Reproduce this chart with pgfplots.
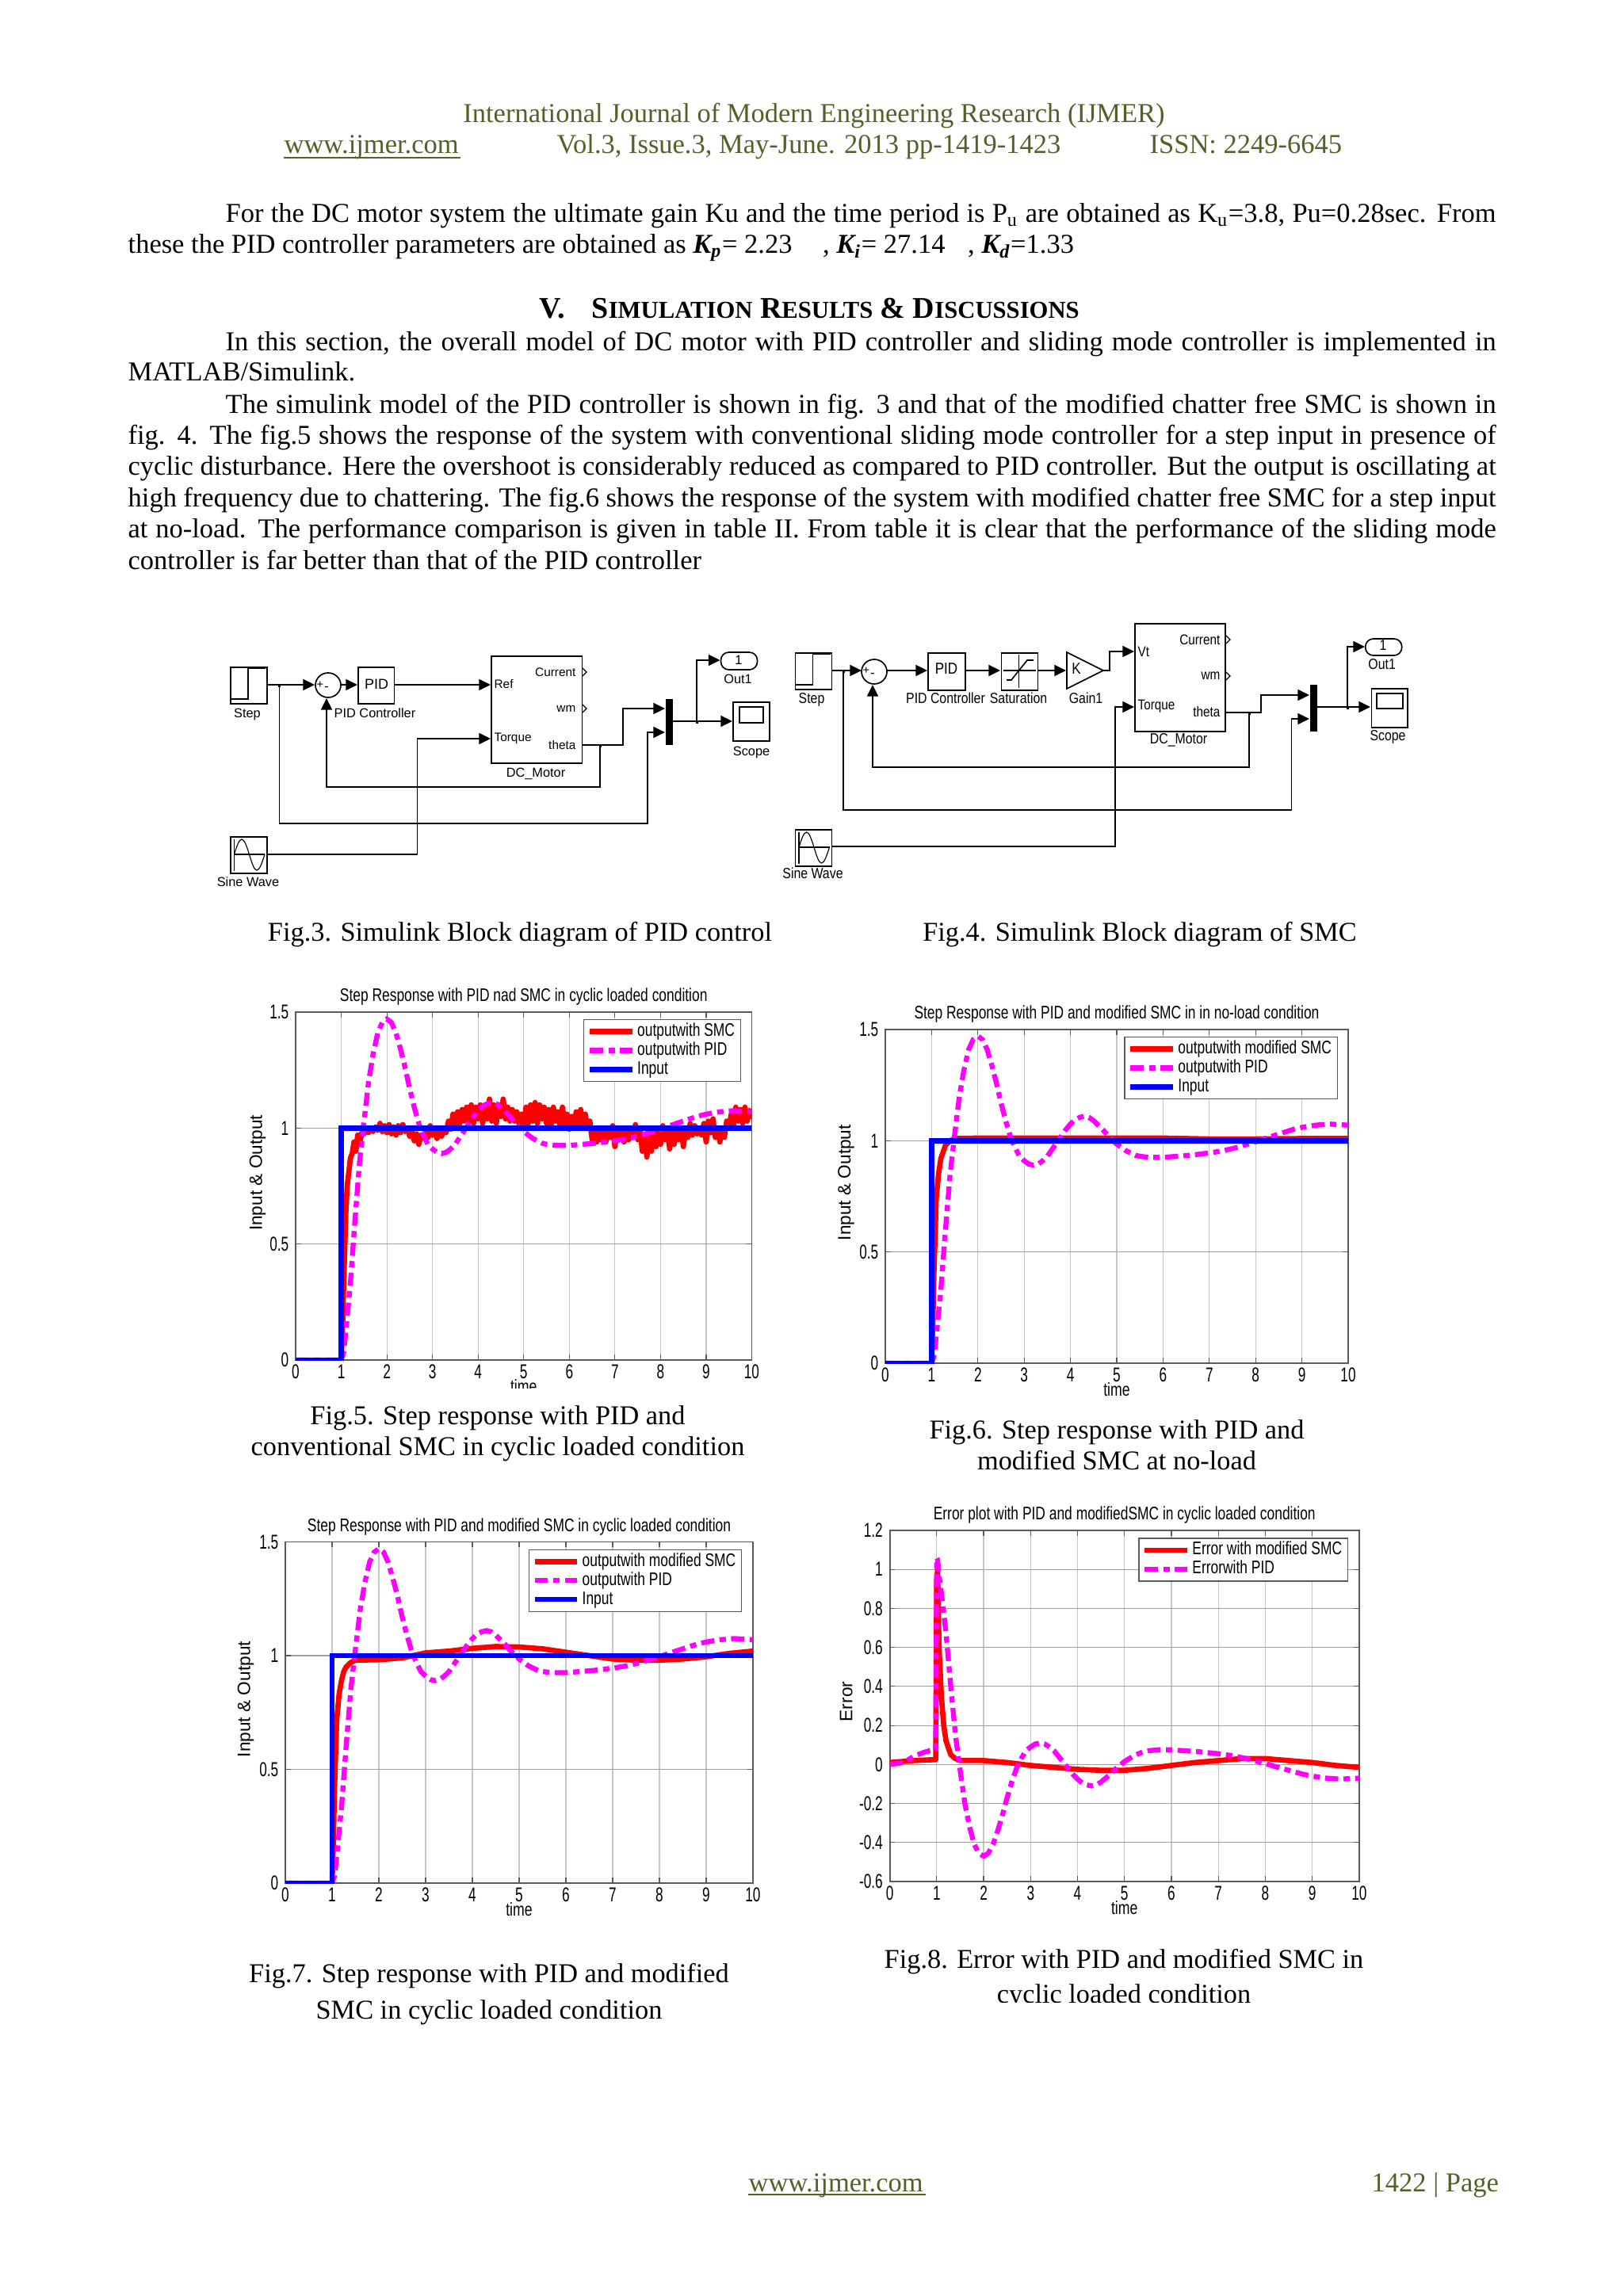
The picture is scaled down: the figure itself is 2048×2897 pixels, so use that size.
\documentclass[border=0pt]{standalone}
\usepackage{fontspec}
\usepackage{pgfplots}
\usepackage{pgfplotstable}
\pgfplotsset{compat=1.18}
\usetikzlibrary{arrows.meta}
\setmainfont{Liberation Serif}
\setsansfont{Liberation Sans}
\newfontfamily\narrow[FakeStretch=0.757]{Liberation Sans}
\newfontfamily\ticknarrow[FakeStretch=0.68]{Liberation Sans}
\newfontfamily\blockfont[FakeStretch=0.85]{Liberation Sans}
\definecolor{olive}{HTML}{4F6228}
\definecolor{matred}{RGB}{255,0,0}
\definecolor{matmag}{RGB}{255,0,255}
\definecolor{matblue}{RGB}{0,0,255}

% step response of the PID loop (same in figs 5-7)
\pgfplotstableread{
t v
0 0
1 0
1.05 0.03
1.1 0.12
1.2 0.33
1.3 0.6
1.4 0.85
1.5 1.03
1.6 1.2
1.7 1.32
1.8 1.41
1.9 1.455
2 1.47
2.1 1.455
2.2 1.41
2.3 1.34
2.4 1.26
2.5 1.17
2.6 1.09
2.7 1.02
2.8 0.97
2.9 0.93
3 0.91
3.1 0.895
3.2 0.89
3.3 0.895
3.4 0.91
3.5 0.93
3.6 0.96
3.7 0.99
3.8 1.02
3.9 1.05
4 1.075
4.1 1.095
4.2 1.105
4.3 1.11
4.4 1.105
4.5 1.09
4.6 1.07
4.7 1.05
4.8 1.025
4.9 1.005
5 0.985
5.1 0.97
5.2 0.955
5.3 0.945
5.4 0.935
5.5 0.93
5.7 0.925
6 0.925
6.3 0.93
6.6 0.935
7 0.945
7.3 0.955
7.6 0.97
8 0.995
8.2 1.01
8.5 1.03
8.8 1.05
9 1.06
9.3 1.07
9.6 1.075
10 1.07
}\pidcurve

% conventional SMC with chatter, fig 5
\pgfplotstableread{
t v
1 0
1.03 0.15
1.05 0.3
1.08 0.5
1.1 0.63
1.13 0.75
1.16 0.8
1.2 0.87
1.24 0.89
1.28 0.94
1.32 0.9
1.36 0.97
1.4 0.93
1.45 0.98
1.5 0.975
1.55 0.99
1.6 0.98
1.65 1
1.7 0.985
1.75 1.005
1.8 0.99
1.85 1.02
1.9 0.985
1.95 1.01
2 0.98
2.05 1.015
2.1 0.975
2.15 1.005
2.2 0.97
2.25 1.01
2.3 0.98
2.35 1.015
2.4 0.985
2.45 1
2.5 0.965
2.55 0.985
2.6 0.945
2.65 0.975
2.7 0.93
2.75 0.97
2.8 0.955
2.85 0.985
2.9 0.96
2.95 1.01
3 0.97
3.05 0.99
3.1 0.955
3.15 1
3.2 0.965
3.25 0.99
3.3 0.98
3.35 1.03
3.4 0.995
3.45 1.06
3.5 1.01
3.55 1.07
3.6 1.02
3.65 1.08
3.7 1.03
3.75 1.09
3.8 1.03
3.85 1.1
3.9 1.02
3.95 1.09
4 1.04
4.05 1.1
4.1 1.02
4.15 1.09
4.2 1.04
4.25 1.125
4.3 1.03
4.35 1.1
4.4 1.02
4.45 1.1
4.5 1.05
4.55 1.125
4.6 1.04
4.65 1.09
4.7 1.03
4.75 1.08
4.8 1.03
4.85 1.07
4.9 1.015
4.95 1.06
5 1
5.05 1.09
5.1 1.02
5.15 1.1
5.2 1.03
5.25 1.11
5.3 1.02
5.35 1.1
5.4 1.04
5.45 1.09
5.5 1.02
5.55 1.08
5.6 1.01
5.65 1.09
5.7 1.03
5.75 1.07
5.8 1
5.85 1.09
5.9 1.02
5.95 1.06
6 0.995
6.05 1.05
6.1 1
6.15 1.07
6.2 1.02
6.25 1.08
6.3 1.01
6.35 1.06
6.4 1
6.45 1.03
6.5 0.95
6.55 0.99
6.6 0.94
6.65 0.98
6.7 0.95
6.75 1
6.8 0.94
6.85 0.98
6.9 0.96
6.95 1.01
7 0.92
7.05 0.99
7.1 0.95
7.15 0.985
7.2 0.94
7.25 1
7.3 0.95
7.35 0.99
7.4 0.96
7.45 1.015
7.5 0.95
7.55 1
7.6 0.9
7.65 0.97
7.7 0.875
7.75 0.96
7.8 0.9
7.85 0.99
7.9 0.92
7.95 0.99
8 0.93
8.05 1.01
8.1 0.95
8.15 0.99
8.2 0.91
8.25 1
8.3 0.93
8.35 1.02
8.4 0.95
8.45 1
8.5 0.92
8.55 0.99
8.6 0.96
8.65 1.02
8.7 0.97
8.75 1.01
8.8 0.975
8.85 1
8.9 0.97
8.95 1.02
9 0.94
9.05 1.03
9.1 0.98
9.15 1.04
9.2 0.96
9.25 1
9.3 0.94
9.35 0.99
9.4 0.96
9.45 1.03
9.5 1
9.55 1.06
9.6 1.01
9.65 1.09
9.7 1.03
9.75 1.08
9.8 1.02
9.85 1.09
9.9 1.03
9.95 1.075
10 1.04
}\smcchatter

% modified SMC, no load, fig 6
\pgfplotstableread{
t v
1 0
1.03 0.2
1.05 0.4
1.08 0.6
1.1 0.74
1.15 0.85
1.2 0.92
1.25 0.95
1.3 0.98
1.4 1
1.5 1.01
2 1.012
3 1.012
4 1.012
5 1.012
6 1.012
6.5 1.01
7 1.008
8 1.008
9 1.01
10 1.01
}\smcnoload

% modified SMC, cyclic load, fig 7
\pgfplotstableread{
t v
1 0
1.03 0.2
1.05 0.4
1.08 0.6
1.1 0.72
1.15 0.83
1.2 0.89
1.25 0.93
1.3 0.95
1.4 0.97
1.5 0.98
2 0.982
2.5 0.99
3 1.012
3.5 1.02
4 1.032
4.5 1.04
5 1.038
5.5 1.03
6 1.015
6.5 1
7 0.985
7.5 0.98
8 0.98
8.5 0.985
9 0.995
9.5 1.01
10 1.02
}\smccyclic

\pgfplotstableread{
t v
0 0
1 0
1 1
10 1
}\stepinput

% error curves, fig 8
\pgfplotstableread{
t v
0 0.01
0.5 0.02
0.98 0.025
1 0.95
1.02 1
1.05 0.6
1.1 0.35
1.15 0.2
1.2 0.12
1.3 0.05
1.4 0.03
1.5 0.02
2 0.02
2.5 0.01
3 -0.005
3.5 -0.015
4 -0.025
4.5 -0.03
5 -0.03
5.5 -0.02
6 -0.005
6.5 0.01
7 0.02
7.5 0.03
8 0.03
8.5 0.02
9 0.01
9.5 -0.005
10 -0.015
}\errsmc

\pgfplotstableread{
t v
0 0
0.3 0.01
0.5 0.04
0.7 0.06
0.98 0.08
1 1.06
1.02 1.05
1.05 0.97
1.1 0.88
1.2 0.67
1.3 0.4
1.4 0.15
1.5 -0.03
1.6 -0.2
1.7 -0.32
1.8 -0.41
1.9 -0.455
2 -0.47
2.1 -0.455
2.2 -0.41
2.3 -0.34
2.4 -0.26
2.5 -0.17
2.6 -0.09
2.7 -0.02
2.8 0.03
2.9 0.07
3 0.09
3.1 0.105
3.2 0.11
3.3 0.105
3.4 0.09
3.5 0.07
3.6 0.04
3.7 0.01
3.8 -0.02
3.9 -0.05
4 -0.075
4.1 -0.095
4.2 -0.105
4.3 -0.11
4.4 -0.105
4.5 -0.09
4.6 -0.07
4.7 -0.05
4.8 -0.025
4.9 -0.005
5 0.015
5.1 0.03
5.2 0.045
5.3 0.055
5.4 0.065
5.5 0.07
5.7 0.075
6 0.075
6.3 0.07
6.6 0.065
7 0.055
7.3 0.045
7.6 0.03
8 0.005
8.2 -0.01
8.5 -0.03
8.8 -0.05
9 -0.06
9.3 -0.07
9.6 -0.075
10 -0.07
}\errpid

\pgfplotsset{
  pagechart/.style={
    scale only axis,
    xmin=0,xmax=10,
    xtick={0,1,...,10},
    xticklabels={0,1,2,3,4,5,6,7,8,9,10},
    grid=major,
    x grid style={gray!45,line width=0.35pt},
    y grid style={gray!75,line width=0.35pt},
    axis line style={black!65,line width=0.55pt},
    tick align=inside,
    major tick length=2pt,
    tick style={black!65,line width=0.35pt},
    tick label style={font=\ticknarrow\fontsize{7.6}{8}\selectfont},
    xticklabel style={yshift=1.7pt},
    yticklabel style={xshift=0.9pt},
    title style={font=\narrow\fontsize{6.9}{8}\selectfont,at={(axis description cs:0.5,1)},anchor=center,yshift=-0.3pt},
    xlabel style={font=\narrow\fontsize{7}{8}\selectfont,at={(axis description cs:0.5,0)},anchor=center,yshift=-10pt},
    ylabel style={font=\sffamily\fontsize{6.8}{8}\selectfont},
    legend cell align=left,
    legend image code/.code={\draw[##1] (0pt,0pt) -- (16pt,0pt);},
    legend style={font=\narrow\fontsize{6.9}{7.2}\selectfont,draw=black!65,line width=0.4pt,
      inner xsep=1.25pt,inner ysep=1.3pt,row sep=0.8pt,fill=white,
      nodes={inner xsep=1pt,inner ysep=0pt,text height=5pt,text depth=1.4pt},
      /tikz/every even column/.style={column sep=0pt}},
  },
  smcline/.style={matred,line width=2pt,line join=round},
  pidline/.style={matmag,line width=1.9pt,dash pattern=on 5pt off 2pt on 2.4pt off 2pt},
  inputline/.style={matblue,line width=1.9pt,line join=miter},
}

% one line set to a fixed width, so that it breaks as on the page
\newcommand\jline[4]{\node[anchor=base west,inner sep=0pt] at (#1,#2) {\hbox to \dimexpr0.3pt*#3\relax{#4}};}
\newcommand\tline[3]{\node[anchor=base west,inner sep=0pt] at (#1,#2) {#3};}
\newcommand\ctline[3]{\node[anchor=base,inner sep=0pt] at (#1,#2) {#3};}
\newcommand\blab[3]{\node[anchor=base,inner sep=0pt,font=\sffamily\fontsize{4.9}{6}\selectfont] at (#1,#2) {#3};}
\newcommand\blabb[3]{\node[anchor=base,inner sep=0pt,font=\blockfont\fontsize{5.6}{6}\selectfont] at (#1,#2) {#3};}
\newcommand\sineicon[2]{\begin{scope}[shift={(#1,#2)}]
  \draw[line width=0.5pt] (0,0) rectangle (46,46);
  \draw[line width=0.35pt] (4.5,3) -- (4.5,43) (4.5,22) -- (43,22);
  \draw[line width=0.35pt] (4.5,22) sin (14,3) cos (23.5,22) sin (33,42) cos (43,22);
\end{scope}}
\newcommand\stepicon[2]{\begin{scope}[shift={(#1,#2)}]
  \draw[line width=0.5pt] (0,0) rectangle (46,46);
  \draw[line width=0.5pt] (0,40) -- (22,40) -- (22,1.5) -- (44,1.5);
\end{scope}}
\tikzset{
  wire/.style={line width=0.5pt},
  arr/.style={wire,-{Triangle[length=4.4pt,width=4.2pt]}},
  port/.style={line width=0.35pt},
}

\begin{document}
\begin{tikzpicture}[x=0.3pt,y=-0.3pt]
\path (0,0) rectangle (2048,2897);

% page head
\begin{scope}[text=olive,font=\fontsize{10.35}{13}\selectfont]
\ctline{1027}{155}{International Journal of Modern Engineering Research (IJMER)}
\tline{358}{194}{www.ijmer.com}
\tline{702}{194}{Vol.3, Issue.3, May-June. 2013 pp-1419-1423}
\tline{1450}{194}{ISSN: 2249-6645}
\tline{944}{2765}{www.ijmer.com}
\tline{1730}{2765}{1422 | Page}
\end{scope}
\draw[olive,line width=0.5pt] (358,199) -- (581,199) (944,2769) -- (1168,2769);

% body text
\begin{scope}[font=\fontsize{10.35}{13}\selectfont]
\jline{284}{281}{1603}{For the DC motor system the ultimate gain Ku and the time period is P\textsubscript{u} are obtained as K\textsubscript{u}=3.8, Pu=0.28sec. From}
\tline{161}{320}{these the PID controller parameters are obtained as \textbf{\textit{K\textsubscript{p}}}= 2.23\hspace{9pt} , \textbf{\textit{K\textsubscript{i}}}= 27.14\hspace{6pt} , \textbf{\textit{K\textsubscript{d}}}=1.33}
\jline{284}{442}{1603}{In this section, the overall model of DC motor with PID controller and sliding mode controller is implemented in}
\tline{161}{481}{MATLAB/Simulink.}
\jline{284}{521}{1603}{The simulink model of the PID controller is shown in fig. 3 and that of the modified chatter free SMC is shown in}
\jline{161}{560}{1726}{fig. 4. The fig.5 shows the response of the system with conventional sliding mode controller for a step input in presence of}
\jline{161}{599}{1726}{cyclic disturbance. Here the overshoot is considerably reduced as compared to PID controller. But the output is oscillating at}
\jline{161}{639}{1726}{high frequency due to chattering. The fig.6 shows the response of the system with modified chatter free SMC for a step input}
\jline{161}{678}{1726}{at no-load. The performance comparison is given in table II. From table it is clear that the performance of the sliding mode}
\tline{161}{718}{controller is far better than that of the PID controller}
\end{scope}
\tline{680}{402}{\bfseries\fontsize{11.4}{14}\selectfont V.}
\tline{746}{402}{\bfseries\fontsize{11.4}{14}\selectfont S{\fontsize{9.2}{14}\selectfont IMULATION} R{\fontsize{9.2}{14}\selectfont ESULTS} \& D{\fontsize{9.2}{14}\selectfont ISCUSSIONS}}

% captions
\begin{scope}[font=\fontsize{10.3}{14}\selectfont]
\ctline{656}{1187}{Fig.3. Simulink Block diagram of PID control}
\ctline{1438}{1187}{Fig.4. Simulink Block diagram of SMC}
\ctline{628}{1797}{Fig.5. Step response with PID and}
\ctline{628}{1836}{conventional SMC in cyclic loaded condition}
\ctline{1409}{1815}{Fig.6. Step response with PID and}
\ctline{1409}{1854}{modified SMC at no-load}
\ctline{617}{2501}{Fig.7. Step response with PID and modified}
\ctline{617}{2547}{SMC in cyclic loaded condition}
\ctline{1418}{2483}{Fig.8. Error with PID and modified SMC in}
\ctline{1418}{2527}{cyclic loaded condition}
\end{scope}
\fill[white] (1240,2527) rectangle (1600,2545);

% fig 3 block diagram
\stepicon{291}{842}
\blab{312}{905}{Step}
\draw[arr] (337,864) -- (397,864);
\draw[wire] (414,864.5) ellipse (16 and 15.5);
\node[font=\sffamily\fontsize{4.4}{5}\selectfont,inner sep=0pt] at (404,864) {+};
\node[font=\sffamily\fontsize{5}{5}\selectfont,inner sep=0pt] at (412,869) {-};
\draw[arr] (430,864) -- (451,864);
\draw[wire] (452,842) rectangle (497.5,888);
\node[font=\sffamily\fontsize{5.4}{6}\selectfont,inner sep=0pt] at (475,863) {PID};
\blab{473}{905}{PID Controller}
\draw[arr] (497.5,864) -- (619,864);
\draw[wire] (620,828) rectangle (734.5,963);
\node[anchor=west,inner sep=0pt,font=\sffamily\fontsize{4.6}{5}\selectfont] at (623,863) {Ref};
\node[anchor=west,inner sep=0pt,font=\sffamily\fontsize{4.6}{5}\selectfont] at (623,932) {Torque};
\node[anchor=east,inner sep=0pt,font=\sffamily\fontsize{4.6}{5}\selectfont] at (727,848) {Current};
\node[anchor=east,inner sep=0pt,font=\sffamily\fontsize{4.6}{5}\selectfont] at (727,894) {wm};
\node[anchor=east,inner sep=0pt,font=\sffamily\fontsize{4.6}{5}\selectfont] at (727,940) {theta};
\draw[port] (735,843) -- (740,848) -- (735,853) (735,889) -- (740,894) -- (735,899);
\blab{676}{980}{DC\_Motor}
\draw[arr] (337,1078) -- (526.5,1078) -- (526.5,932) -- (619,932);
\draw[arr] (734.5,940) -- (786,940) -- (786,894) -- (839,894);
\draw[arr] (757,940) -- (757,993) -- (412,993) -- (412,881);
\fill (755.5,940) rectangle (758.5,943);
\draw[arr] (352.4,864) -- (352.4,1039) -- (817,1039) -- (817,924) -- (839,924);
\fill (351,864) rectangle (354,867);
\fill (840,882) rectangle (849,940);
\draw[arr] (849,910) -- (924,910);
\draw[arr] (879,910) -- (879,833) -- (908.5,833);
\fill (877.5,910) rectangle (880.5,913);
\draw[wire,rounded corners=3pt] (909.5,823) rectangle (955.5,845);
\node[font=\sffamily\fontsize{4.9}{5}\selectfont,inner sep=0pt] at (932,833) {1};
\blab{931}{862}{Out1}
\draw[wire] (925,886) rectangle (971,935);
\draw[wire] (933,892) rectangle (963,912);
\blab{948}{953}{Scope}
\sineicon{291}{1056}
\blab{313}{1118}{Sine Wave}

% fig 4 block diagram
\stepicon{1003.5}{824}
\blabb{1024}{887}{Step}
\draw[arr] (1049,846) -- (1087,846);
\draw[wire] (1103,847.5) ellipse (16 and 15.5);
\node[font=\sffamily\fontsize{4.4}{5}\selectfont,inner sep=0pt] at (1093,846) {+};
\node[font=\sffamily\fontsize{5}{5}\selectfont,inner sep=0pt] at (1101,852) {-};
\draw[arr] (1119,846) -- (1170,846);
\draw[wire] (1171,824) rectangle (1218,871);
\node[font=\blockfont\fontsize{6}{6}\selectfont,inner sep=0pt] at (1194,844) {PID};
\blabb{1193}{887}{PID Controller}
\draw[arr] (1218,846) -- (1262,846);
\draw[wire] (1263.5,824) rectangle (1309.5,871);
\draw[line width=0.35pt] (1266,846) -- (1307,846) (1285.5,826) -- (1285.5,868);
\draw[line width=0.5pt] (1270,858) -- (1276,858) -- (1296,833) -- (1304,833);
\blabb{1285}{887}{Saturation}
\draw[arr] (1309.5,846) -- (1345,846);
\draw[wire] (1346,823) -- (1392,846) -- (1346,869) -- cycle;
\node[font=\blockfont\fontsize{6}{6}\selectfont,inner sep=0pt] at (1358,844) {K};
\blabb{1370}{887}{Gain1}
\draw[arr] (1392,846) -- (1400,846) -- (1400,822) -- (1431,822);
\draw[wire] (1432,787) rectangle (1546,923);
\node[anchor=west,inner sep=0pt,font=\blockfont\fontsize{5.4}{6}\selectfont] at (1435,822) {Vt};
\node[anchor=west,inner sep=0pt,font=\blockfont\fontsize{5.4}{6}\selectfont] at (1435,891) {Torque};
\node[anchor=east,inner sep=0pt,font=\blockfont\fontsize{5.4}{6}\selectfont] at (1540,807) {Current};
\node[anchor=east,inner sep=0pt,font=\blockfont\fontsize{5.4}{6}\selectfont] at (1540,853) {wm};
\node[anchor=east,inner sep=0pt,font=\blockfont\fontsize{5.4}{6}\selectfont] at (1540,898) {theta};
\draw[port] (1547,802) -- (1552,807) -- (1547,812) (1547,848) -- (1552,853) -- (1547,858);
\blabb{1487}{938}{DC\_Motor}
\draw[arr] (1049,1068) -- (1407,1068) -- (1407,892) -- (1431,892);
\draw[arr] (1546,899) -- (1591,899) -- (1591,877) -- (1652,877);
\draw[arr] (1576,899) -- (1576,968) -- (1101,968) -- (1101,864);
\fill (1574.5,899) rectangle (1577.5,902);
\draw[arr] (1064,846) -- (1064,1022) -- (1629.6,1022) -- (1629.6,907) -- (1652,907);
\fill (1062.5,846) rectangle (1065.5,849);
\fill (1653,864) rectangle (1662,923);
\draw[arr] (1662,892) -- (1729,892);
\draw[arr] (1700,892) -- (1700,816) -- (1722,816);
\fill (1698.5,892) rectangle (1701.5,895);
\draw[wire,rounded corners=3pt] (1722.7,806) rectangle (1768.7,827);
\node[font=\blockfont\fontsize{5.6}{5}\selectfont,inner sep=0pt] at (1745,814) {1};
\blabb{1743.6}{844}{Out1}
\draw[wire] (1730.5,869) rectangle (1776,918);
\draw[wire] (1737,875) rectangle (1770,894);
\blabb{1751}{934}{Scope}
\sineicon{1003.5}{1047}
\blabb{1025.5}{1108}{Sine Wave}

% fig 5
\begin{axis}[pagechart,at={(111.9pt,-514.8pt)},anchor=south west,
  width=172.65pt,height=131.7pt,
  ymin=0,ymax=1.5,ytick={0,0.5,1,1.5},yticklabels={0,0.5,1,1.5},
  title={Step Response with PID nad SMC in cyclic loaded condition},
  xlabel={time},
  ylabel={Input \& Output},
  ylabel style={at={(axis description cs:0,0.5)},anchor=center,xshift=5pt,yshift=14.4pt},
  legend style={at={(axis description cs:0.977,0.98)},anchor=north east},
]
\addplot[smcline] table[x=t,y=v] {\smcchatter};
\addplot[pidline] table[x=t,y=v] {\pidcurve};
\addplot[inputline] table[x=t,y=v] {\stepinput};
\legend{outputwith SMC,outputwith PID,Input}
\end{axis}
\fill[white] (600,1752) rectangle (720,1766);

% fig 6
\begin{axis}[pagechart,at={(335.1pt,-516pt)},anchor=south west,
  width=175.2pt,height=126.3pt,
  ymin=0,ymax=1.5,ytick={0,0.5,1,1.5},yticklabels={0,0.5,1,1.5},
  title={Step Response with PID and modified SMC in in no-load condition},
  xlabel={time},
  ylabel={Input \& Output},
  ylabel style={at={(axis description cs:0,0.5)},anchor=center,xshift=5.2pt,yshift=14.85pt},
  legend style={at={(axis description cs:0.978,0.979)},anchor=north east},
]
\addplot[smcline] table[x=t,y=v] {\smcnoload};
\addplot[pidline] table[x=t,y=v] {\pidcurve};
\addplot[inputline] table[x=t,y=v] {\stepinput};
\legend{outputwith modified SMC,outputwith PID,Input}
\end{axis}

% fig 7
\begin{axis}[pagechart,at={(108pt,-712.8pt)},anchor=south west,
  width=177pt,height=129.15pt,
  ymin=0,ymax=1.5,ytick={0,0.5,1,1.5},yticklabels={0,0.5,1,1.5},
  title={Step Response with PID and modified SMC in cyclic loaded condition},
  xlabel={time},
  ylabel={Input \& Output},
  ylabel style={at={(axis description cs:0,0.5)},anchor=center,xshift=5pt,yshift=15pt},
  legend style={at={(axis description cs:0.977,0.979)},anchor=north east},
]
\addplot[smcline] table[x=t,y=v] {\smccyclic};
\addplot[pidline] table[x=t,y=v] {\pidcurve};
\addplot[inputline] table[x=t,y=v] {\stepinput};
\legend{outputwith modified SMC,outputwith PID,Input}
\end{axis}

% fig 8
\begin{axis}[pagechart,at={(336.78pt,-712.2pt)},anchor=south west,
  width=177.7pt,height=132.9pt,
  ymin=-0.6,ymax=1.2,
  ytick={-0.6,-0.4,-0.2,0,0.2,0.4,0.6,0.8,1,1.2},
  yticklabels={-0.6,-0.4,-0.2,0,0.2,0.4,0.6,0.8,1,1.2},
  title={Error plot with PID and modifiedSMC in cyclic loaded condition},
  xlabel={time},
  ylabel={Error},
  ylabel style={at={(axis description cs:0,0.5)},anchor=center,xshift=1.65pt,yshift=16.5pt},
  legend style={at={(axis description cs:0.977,0.979)},anchor=north east},
]
\addplot[smcline] table[x=t,y=v] {\errsmc};
\addplot[pidline] table[x=t,y=v] {\errpid};
\legend{Error with modified SMC,Errorwith PID}
\end{axis}
\end{tikzpicture}
\end{document}
